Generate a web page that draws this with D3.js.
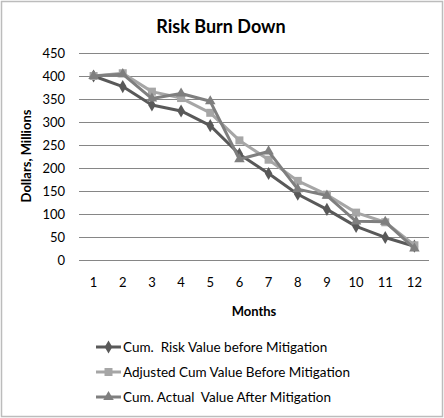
<!DOCTYPE html>
<html>
<head>
<meta charset="utf-8">
<script src="https://cdn.jsdelivr.net/npm/d3@7"></script>
<style>
  body { margin: 0; background: #fff; }
  text { font-family: Lato, "Open Sans", sans-serif; fill: #000; }
</style>
</head>
<body>
<div id="chart"></div>
<script>
// data
var months = ["1", "2", "3", "4", "5", "6", "7", "8", "9", "10", "11", "12"];
var riskBefore = [400, 377, 337, 324, 292, 230, 188, 143, 110, 73, 49, 30];
var adjustedBefore = [400, 406, 366, 352, 320, 260, 218, 172, 142, 103, 82, 32];
var actualAfter = [400, 404, 351, 362, 345, 219, 236, 154, 140, 84, 83, 25];
var yTicks = [0, 50, 100, 150, 200, 250, 300, 350, 400, 450];
var seriesNames = [
  "Cum.  Risk Value before Mitigation",
  "Adjusted Cum Value Before Mitigation",
  "Cum. Actual  Value After Mitigation"
];

function init() {
  var W = 444, H = 418;
  var margin = { top: 53, right: 15, bottom: 158, left: 79 },
    width = 429 - margin.left,
    height = 260 - margin.top;

  var svg = d3.select("#chart").append("svg")
    .attr("width", W).attr("height", H);

  // outer border
  svg.append("rect")
    .attr("x", 1.5).attr("y", 1.5)
    .attr("width", W - 3).attr("height", H - 3)
    .attr("fill", "#fff").attr("stroke", "#bcbcbc").attr("stroke-width", 1.5);

  var g = svg.append("g")
    .attr("transform", "translate(" + margin.left + "," + margin.top + ")");

  var x = d3.scaleBand().domain(months).range([0, width]);
  var y = d3.scaleLinear().domain([0, 450]).range([height, 0]);

  // gridlines
  g.append("g").selectAll("line").data(yTicks).enter().append("line")
    .attr("x1", 0).attr("x2", width)
    .attr("y1", function (d) { return Math.round(y(d)) + 0.5; })
    .attr("y2", function (d) { return Math.round(y(d)) + 0.5; })
    .attr("stroke", "#868686").attr("stroke-width", 1);

  // y axis labels
  var yAxis = g.append("g")
    .attr("transform", "translate(-8,0)")
    .call(d3.axisLeft(y).tickValues(yTicks).tickSize(0).tickPadding(6));
  yAxis.select(".domain").remove();
  yAxis.selectAll("text").style("font-size", "13px").style("font-family", "Lato, sans-serif").attr("fill", "#000");

  // x axis labels
  var xAxis = g.append("g")
    .attr("transform", "translate(0," + height + ")")
    .call(d3.axisBottom(x).tickSize(0).tickPadding(18));
  xAxis.select(".domain").remove();
  xAxis.selectAll("text").style("font-size", "13px").style("font-family", "Lato, sans-serif").attr("fill", "#000");

  // titles
  svg.append("text")
    .attr("x", 221).attr("y", 33)
    .attr("text-anchor", "middle")
    .style("font-size", "18px").style("font-weight", "bold")
    .text("Risk Burn Down");

  svg.append("text")
    .attr("x", margin.left + width / 2).attr("y", 316)
    .attr("text-anchor", "middle")
    .style("font-size", "13px").style("font-weight", "bold")
    .text("Months");

  svg.append("text")
    .attr("transform", "translate(31," + 156 + ") rotate(-90)")
    .attr("text-anchor", "middle")
    .style("font-size", "13px").style("font-weight", "bold")
    .text("Dollars, Millions");

  var series = [
    { name: seriesNames[0], values: riskBefore, color: "#595959", shape: d3.symbolDiamond, size: 50 },
    { name: seriesNames[1], values: adjustedBefore, color: "#a6a6a6", shape: d3.symbolSquare, size: 64 },
    { name: seriesNames[2], values: actualAfter, color: "#7f7f7f", shape: d3.symbolTriangle, size: 48 }
  ];

  var line = d3.line()
    .x(function (d, i) { return x(months[i]) + x.bandwidth() / 2; })
    .y(function (d) { return y(d); });

  series.forEach(function (s) {
    var sg = g.append("g");
    sg.append("path")
      .datum(s.values)
      .attr("d", line)
      .attr("fill", "none")
      .attr("stroke", s.color)
      .attr("stroke-width", 3)
      .attr("stroke-linejoin", "round");
    sg.selectAll("path.pt").data(s.values).enter().append("path")
      .attr("class", "pt")
      .attr("d", d3.symbol().type(s.shape).size(s.size))
      .attr("transform", function (d, i) {
        return "translate(" + (x(months[i]) + x.bandwidth() / 2) + "," + y(d) + ")";
      })
      .attr("fill", s.color);
  });

  // legend
  var legend = svg.append("g");
  series.forEach(function (s, i) {
    var ly = 347 + i * 25;
    legend.append("line")
      .attr("x1", 96).attr("x2", 121)
      .attr("y1", ly).attr("y2", ly)
      .attr("stroke", s.color).attr("stroke-width", 3);
    legend.append("path")
      .attr("d", d3.symbol().type(s.shape).size(s.size))
      .attr("transform", "translate(108.5," + ly + ")")
      .attr("fill", s.color);
    legend.append("text")
      .attr("x", 123).attr("y", ly)
      .attr("dy", "0.35em")
      .style("font-size", "13.5px")
      .style("white-space", "pre")
      .text(s.name);
  });
}
window.onload = init;
</script>
</body>
</html>
